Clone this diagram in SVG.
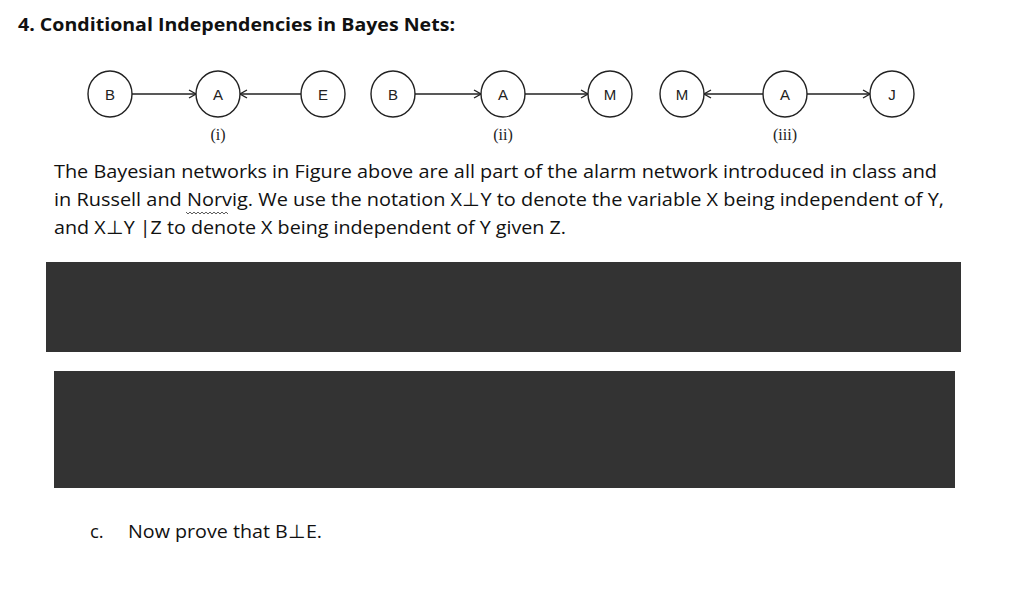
<svg xmlns="http://www.w3.org/2000/svg" width="1024" height="603" viewBox="0 0 1024 603">
<style>
.t{font-family:"Open Sans","Liberation Sans",sans-serif;font-size:18.5px;fill:#111}
.n{fill:#fff;stroke:#222;stroke-width:1.4}
.nl{font-family:"Liberation Sans",sans-serif;font-size:15px;fill:#222;text-anchor:middle}
.cap{font-family:"Liberation Serif",serif;font-size:16px;fill:#222;text-anchor:middle}
.e{stroke:#222;stroke-width:1.4;fill:none;marker-end:url(#ah)}
</style>
<defs><marker id="ah" markerWidth="10" markerHeight="10" refX="8" refY="5" orient="auto" markerUnits="userSpaceOnUse"><path d="M1,1 L8,5 L1,9" fill="none" stroke="#222" stroke-width="1.4"/></marker></defs>
<rect width="1024" height="603" fill="#fff"/>
<text class="t" x="18" y="31" font-weight="bold" textLength="437" lengthAdjust="spacingAndGlyphs">4.  Conditional Independencies in Bayes Nets:</text>
<g id="edges">
<line class="e" x1="132" y1="94" x2="196" y2="94"/>
<line class="e" x1="301" y1="94" x2="240" y2="94"/>
<line class="e" x1="415" y1="94" x2="481" y2="94"/>
<line class="e" x1="525" y1="94" x2="588" y2="94"/>
<line class="e" x1="763" y1="94" x2="704" y2="94"/>
<line class="e" x1="807" y1="94" x2="870" y2="94"/>
</g>
<g id="n1"><ellipse class="n" cx="110" cy="94" rx="22" ry="23"/><text class="nl" x="110" y="100">B</text></g>
<g id="n2"><ellipse class="n" cx="218" cy="94" rx="22" ry="23"/><text class="nl" x="218" y="100">A</text></g>
<g id="n3"><ellipse class="n" cx="323" cy="94" rx="22" ry="23"/><text class="nl" x="323" y="100">E</text></g>
<g id="n4"><ellipse class="n" cx="393" cy="94" rx="22" ry="23"/><text class="nl" x="393" y="100">B</text></g>
<g id="n5"><ellipse class="n" cx="503" cy="94" rx="22" ry="23"/><text class="nl" x="503" y="100">A</text></g>
<g id="n6"><ellipse class="n" cx="610" cy="94" rx="22" ry="23"/><text class="nl" x="610" y="100">M</text></g>
<g id="n7"><ellipse class="n" cx="682" cy="94" rx="22" ry="23"/><text class="nl" x="682" y="100">M</text></g>
<g id="n8"><ellipse class="n" cx="785" cy="94" rx="22" ry="23"/><text class="nl" x="785" y="100">A</text></g>
<g id="n9"><ellipse class="n" cx="892" cy="94" rx="22" ry="23"/><text class="nl" x="892" y="100">J</text></g>
<text class="cap" x="218" y="140">(i)</text>
<text class="cap" x="503" y="140">(ii)</text>
<text class="cap" x="785" y="140">(iii)</text>
<text class="t" x="54" y="178" textLength="883" lengthAdjust="spacingAndGlyphs">The Bayesian networks in Figure above are all part of the alarm network introduced in class and</text>
<text class="t" x="54" y="206" textLength="890" lengthAdjust="spacingAndGlyphs">in Russell and Norvig. We use the notation X⊥Y to denote the variable X being independent of Y,</text>
<text class="t" x="54" y="234" textLength="512" lengthAdjust="spacingAndGlyphs">and X⊥Y |Z to denote X being independent of Y given Z.</text>
<path d="M186,212 l2,2 l2,-2 l2,2 l2,-2 l2,2 l2,-2 l2,2 l2,-2 l2,2 l2,-2 l2,2 l2,-2 l2,2 l2,-2 l2,2 l2,-2 l2,2 l2,-2 l2,2 l2,-2 l2,2" fill="none" stroke="#333" stroke-width="0.8"/>
<rect x="46" y="262" width="915" height="90" fill="#333"/>
<rect x="54" y="371" width="901" height="117" fill="#333"/>
<text class="t" x="90" y="538">c.</text>
<text class="t" x="128" y="538" textLength="194" lengthAdjust="spacingAndGlyphs">Now prove that B⊥E.</text>
</svg>
